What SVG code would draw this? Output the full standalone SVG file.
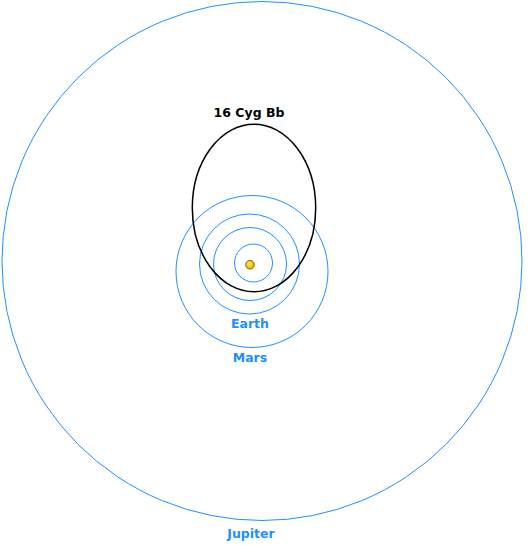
<svg xmlns="http://www.w3.org/2000/svg" width="530" height="545" viewBox="0 0 530 545">
<style>
.orb{fill:none;stroke:#1e90ff;stroke-width:1}
.lbl{font-family:"DejaVu Sans",sans-serif;font-weight:bold;font-size:12.5px;text-anchor:middle}
.blue{fill:#1e90ff}
</style>
<defs>
<radialGradient id="sung" cx="0.4" cy="0.4" r="0.6">
<stop offset="0" stop-color="#ffee44"/>
<stop offset="1" stop-color="#f0b400"/>
</radialGradient>
</defs>
<rect width="530" height="545" fill="#fff"/>
<g id="jupiter"><ellipse class="orb" cx="262" cy="261" rx="260" ry="259.5"/><text class="lbl blue" x="251" y="538">Jupiter</text></g>
<g id="mars"><circle class="orb" cx="252" cy="271.5" r="76"/><text class="lbl blue" x="250" y="362">Mars</text></g>
<g id="earth"><circle class="orb" cx="249.5" cy="264" r="50"/><text class="lbl blue" x="250" y="328">Earth</text></g>
<g id="venus"><circle class="orb" cx="250" cy="264" r="36.5"/></g>
<g id="mercury"><circle class="orb" cx="253.5" cy="263" r="19"/></g>
<g id="cyg"><ellipse cx="254" cy="208" rx="61.7" ry="83.8" fill="none" stroke="#000" stroke-width="1.5"/><text class="lbl" x="249" y="117" fill="#000">16 Cyg Bb</text></g>
<g id="sun"><circle cx="250" cy="264.7" r="4.3" fill="url(#sung)" stroke="#8a5a00" stroke-width="1"/></g>
<g id="connectors"/>
</svg>
